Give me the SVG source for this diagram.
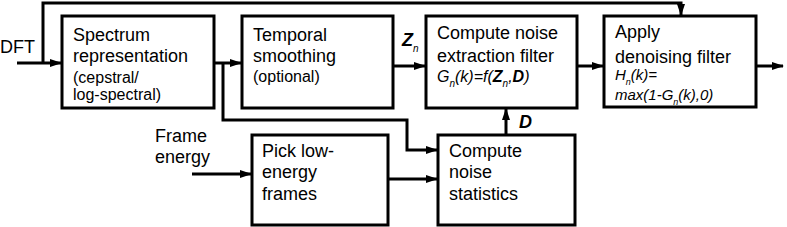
<svg xmlns="http://www.w3.org/2000/svg" width="787" height="227" viewBox="0 0 787 227">
<style>
.box{fill:#fff;stroke:#000;stroke-width:3}
.t{font-family:"Liberation Sans",Arial,sans-serif;font-size:18px;fill:#000}
.s{font-family:"Liberation Sans",Arial,sans-serif;font-size:16px;fill:#000}
.i{font-family:"Liberation Sans",Arial,sans-serif;font-style:italic;fill:#000}
.c{fill:none;stroke:#000;stroke-width:3;marker-end:url(#ah)}
</style>
<defs>
<marker id="ah" viewBox="0 0 12 8" refX="11" refY="4" markerWidth="12" markerHeight="8" markerUnits="userSpaceOnUse" orient="auto">
<path d="M0,0 L12,4 L0,8 Z" fill="#000"/>
</marker>
</defs>
<g id="connectors">
<path class="c" d="M17,63 H61"/>
<path class="c" d="M43,63 V3 H681 V15"/>
<path class="c" d="M215,63 H241"/>
<path class="c" d="M223,63 V120 H407 V150 H437"/>
<path class="c" d="M393,66 H425"/>
<path class="c" d="M577,66 H603"/>
<path class="c" d="M756,66 H783"/>
<path class="c" d="M192,174 H251"/>
<path class="c" d="M388,179 H437"/>
<path class="c" d="M506,135 V109"/>
</g>
<g id="labels">
<text class="t" x="0" y="53">DFT</text>
<text class="t" x="155" y="142">Frame</text>
<text class="t" x="155" y="163">energy</text>
<text class="i" x="402" y="46" font-size="18" font-weight="bold">Z</text>
<text class="i" x="413" y="52" font-size="10">n</text>
<text class="i" x="519" y="128" font-size="18" font-weight="bold">D</text>
</g>
<g id="spectrum">
<rect class="box" x="62" y="16" width="152" height="92"/>
<text class="t" x="73" y="41">Spectrum</text>
<text class="t" x="73" y="62">representation</text>
<text class="s" x="73" y="83">(cepstral/</text>
<text class="s" x="73" y="100">log-spectral)</text>
</g>
<g id="smoothing">
<rect class="box" x="242" y="16" width="151" height="92"/>
<text class="t" x="253" y="41">Temporal</text>
<text class="t" x="253" y="62">smoothing</text>
<text class="s" x="253" y="82">(optional)</text>
</g>
<g id="filter">
<rect class="box" x="426" y="16" width="151" height="92"/>
<text class="t" x="437" y="39">Compute noise</text>
<text class="t" x="437" y="62">extraction filter</text>
<text class="i" x="437" y="82" font-size="16">G<tspan font-size="10" dy="5">n</tspan><tspan dy="-5">(k)=f(</tspan><tspan font-weight="bold">Z</tspan><tspan font-size="10" dy="5">n</tspan><tspan dy="-5">,</tspan><tspan font-weight="bold">D</tspan>)</text>
</g>
<g id="denoise">
<rect class="box" x="604" y="16" width="152" height="91"/>
<text class="t" x="615" y="38">Apply</text>
<text class="t" x="615" y="63">denoising filter</text>
<text class="i" x="615" y="80" font-size="15">H<tspan font-size="9" dy="5">n</tspan><tspan dy="-5">(k)=</tspan></text>
<text class="i" x="615" y="100" font-size="15">max(1-G<tspan font-size="9" dy="5">n</tspan><tspan dy="-5">(k),0)</tspan></text>
</g>
<g id="pick">
<rect class="box" x="252" y="135" width="136" height="90"/>
<text class="t" x="262" y="157">Pick low-</text>
<text class="t" x="262" y="178">energy</text>
<text class="t" x="262" y="200">frames</text>
</g>
<g id="stats">
<rect class="box" x="438" y="135" width="137" height="90"/>
<text class="t" x="449" y="157">Compute</text>
<text class="t" x="449" y="178">noise</text>
<text class="t" x="449" y="200">statistics</text>
</g>
</svg>
